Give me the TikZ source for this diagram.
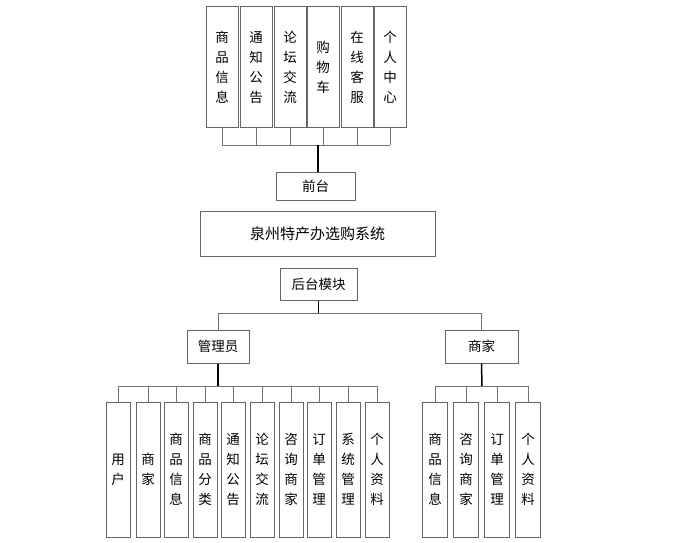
\documentclass[tikz,border=0pt]{standalone}
\usepackage{fontspec}
\setmainfont{Noto Sans CJK SC}
\begin{document}
\begin{tikzpicture}[x=1pt,y=-1pt,
  box/.style={draw=black!60,line width=1pt,fill=white,inner sep=0pt,font=\fontsize{13.5}{20}\selectfont},
  vbox/.style={box,align=center},
  conn/.style={draw=black!55,line width=0.8pt},
  stem/.style={draw=black,line width=1.5pt}]
\useasboundingbox (0,0) rectangle (673,543);
% top modules
\foreach \n/\x/\t in {t1/222/商\\品\\信\\息,t2/256/通\\知\\公\\告,t3/290/论\\坛\\交\\流,t4/323/购\\物\\车,t5/357/在\\线\\客\\服,t6/390/个\\人\\中\\心}{
  \node[vbox,minimum width=32,minimum height=121] (\n) at (\x,67.5) {\t};
}
\node[box,minimum width=79,minimum height=28] (fq) at (315.5,186) {前台};
\node[box,minimum width=235,minimum height=45,font=\fontsize{15}{18}\selectfont] (sys) at (317.5,233.5) {泉州特产办选购系统};
\node[box,minimum width=77,minimum height=32] (ht) at (318.5,284) {后台模块};
\node[box,minimum width=62,minimum height=33] (gl) at (218,346.5) {管理员};
\node[box,minimum width=73,minimum height=33] (sj) at (481.5,346.5) {商家};
\coordinate (tj) at (318,145);
\foreach \n in {t1,t2,t3,t4,t5,t6}{\draw[conn] (\n.south) -- (\n.south |- tj);}
\draw[conn] (t1.south |- tj) -- (t6.south |- tj);
\draw[stem] (tj) -- (tj |- fq.north);
\coordinate (bj) at (318,313);
\draw[stem] (ht.south) -- (ht.south |- bj);
\draw[conn] (gl.north |- bj) -- (sj.north |- bj);
\draw[conn] (gl.north |- bj) -- (gl.north);
\draw[conn] (sj.north |- bj) -- (sj.north);
% admin children
\coordinate (aj) at (218,386);
\foreach \n/\x/\t in {a1/118/用\\户,a2/148/商\\家,a3/176/商\\品\\信\\息,a4/205/商\\品\\分\\类,a5/233/通\\知\\公\\告,a6/262/论\\坛\\交\\流,a7/291/咨\\询\\商\\家,a8/319/订\\单\\管\\理,a9/348/系\\统\\管\\理,a10/377/个\\人\\资\\料}{
  \node[vbox,minimum width=24,minimum height=135] (\n) at (\x,469.5) {\t};
  \draw[conn] (\n.north) -- (\n.north |- aj);
}
\draw[conn] (a1.north |- aj) -- (a10.north |- aj);
\draw[stem] (gl.south) -- (aj);
% merchant children
\coordinate (mj) at (482,386);
\foreach \n/\x/\t in {m1/435/商\\品\\信\\息,m2/466/咨\\询\\商\\家,m3/497/订\\单\\管\\理,m4/528/个\\人\\资\\料}{
  \node[vbox,minimum width=25,minimum height=135] (\n) at (\x,469.5) {\t};
  \draw[conn] (\n.north) -- (\n.north |- mj);
}
\draw[conn] (m1.north |- mj) -- (m4.north |- mj);
\draw[stem] (sj.south) -- (mj);
\end{tikzpicture}
\end{document}
